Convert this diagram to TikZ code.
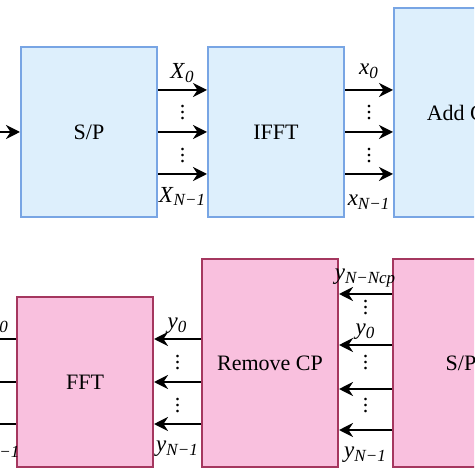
\documentclass[tikz,border=0pt]{standalone}
\usepackage{fontspec}
\setmainfont{Liberation Serif}
\usetikzlibrary{arrows.meta,positioning,calc}
\definecolor{txfill}{RGB}{221,239,252}
\definecolor{txline}{RGB}{120,165,228}
\definecolor{rxfill}{RGB}{249,192,222}
\definecolor{rxline}{RGB}{165,55,95}
\newcommand{\sig}[2]{\textit{#1}\textsubscript{\fontsize{8.5}{9}\selectfont\textit{#2}}}
\newcommand{\vdts}{\vbox{\baselineskip3pt\lineskiplimit0pt\hbox{.}\hbox{.}\hbox{.}}}

\begin{document}
\begin{tikzpicture}[
  x=0.5pt, y=-0.5pt,
  txbox/.style={draw=txline, fill=txfill, line width=1pt, minimum width=68pt, minimum height=85pt, font=\fontsize{11}{13}\selectfont},
  rxbox/.style={txbox, draw=rxline, fill=rxfill},
  arr/.style={-{Stealth[length=7pt,width=7pt]}, line width=1.3pt},
  lbl/.style={font=\fontsize{11.5}{13}\selectfont, inner sep=1pt},
  dts/.style={font=\fontsize{11}{13}\selectfont, inner sep=0pt}
]
  \useasboundingbox (0,0) rectangle (474,474);
  \clip (0,0) rectangle (474,474);

  % transmitter
  \node[txbox] (sp1) at (89,132) {S/P};
  \node[txbox, right=24.5pt of sp1] (ifft) {IFFT};
  \node[txbox, minimum height=104.5pt, right=24pt of ifft.south east, anchor=south west] (addcp) {Add CP};
  \coordinate (in) at (-30,132);

  \draw[arr] (in) -- (sp1);
  \draw[arr] ([yshift=21pt]sp1.east) -- node[lbl, above=2pt] (lX0) {\sig{X}{0}} ([yshift=21pt]ifft.west);
  \draw[arr] (sp1.east) -- node[dts, yshift=9.5pt] (d1) {\vdts} node[dts, yshift=-12pt] (d2) {\vdts} (ifft.west);
  \draw[arr] ([yshift=-21pt]sp1.east) -- node[lbl, below=5pt] (lXN) {\sig{X}{N−1}} ([yshift=-21pt]ifft.west);

  \draw[arr] ([yshift=21pt]ifft.east) -- node[lbl, above=4pt] (lx0) {\sig{x}{0}} ([yshift=21pt]ifft.east -| addcp.west);
  \draw[arr] (ifft.east) -- node[dts, yshift=9.5pt] (d3) {\vdts} node[dts, yshift=-12pt] (d4) {\vdts} (ifft.east -| addcp.west);
  \draw[arr] ([yshift=-21pt]ifft.east) -- node[lbl, below=9pt] (lxN) {\sig{x}{N−1}} ([yshift=-21pt]ifft.east -| addcp.west);

  % receiver
  \node[rxbox] (fft) at (85,382) {FFT};
  \node[rxbox, minimum height=104pt, right=23.5pt of fft.south east, anchor=south west] (rmcp) {Remove CP};
  \node[rxbox, minimum height=104pt, right=26.5pt of rmcp.south east, anchor=south west] (sp2) {S/P};
  \coordinate (o1) at (-18,339);
  \coordinate (o2) at (-18,382);
  \coordinate (o3) at (-18,424);

  \draw[arr] ([yshift=34.5pt]rmcp.east -| sp2.west) -- node[lbl, above=2pt] (lyc) {\sig{y}{N−Ncp}} node[dts, yshift=-7pt] (d5) {\vdts} ([yshift=34.5pt]rmcp.east);
  \draw[arr] ([yshift=9pt]rmcp.east -| sp2.west) -- node[lbl, above=1pt] (ly0b) {\sig{y}{0}} node[dts, yshift=-9pt] (d6) {\vdts} ([yshift=9pt]rmcp.east);
  \draw[arr] ([yshift=-13pt]rmcp.east -| sp2.west) -- node[dts, yshift=-8.5pt] (d7) {\vdts} ([yshift=-13pt]rmcp.east);
  \draw[arr] ([yshift=-33.5pt]rmcp.east -| sp2.west) -- node[lbl, below=7pt] (lyNb) {\sig{y}{N−1}} ([yshift=-33.5pt]rmcp.east);

  \draw[arr] ([yshift=21.5pt]fft.east -| rmcp.west) -- node[lbl, above=1pt] (ly0) {\sig{y}{0}} ([yshift=21.5pt]fft.east);
  \draw[arr] (fft.east -| rmcp.west) -- node[dts, yshift=9.5pt] (d8) {\vdts} node[dts, yshift=-12pt] (d9) {\vdts} (fft.east);
  \draw[arr] ([yshift=-21pt]fft.east -| rmcp.west) -- node[lbl, below=7pt] (lyN) {\sig{y}{N−1}} ([yshift=-21pt]fft.east);

  \draw[arr] ([yshift=21.5pt]fft.west) -- node[lbl, above=1pt] (lo0) {\sig{y}{0}} (o1);
  \draw[arr] (fft.west) -- (o2);
  \draw[arr] ([yshift=-21pt]fft.west) -- node[lbl, below=8pt] (loN) {\sig{y}{N−1}} (o3);
\end{tikzpicture}
\end{document}
